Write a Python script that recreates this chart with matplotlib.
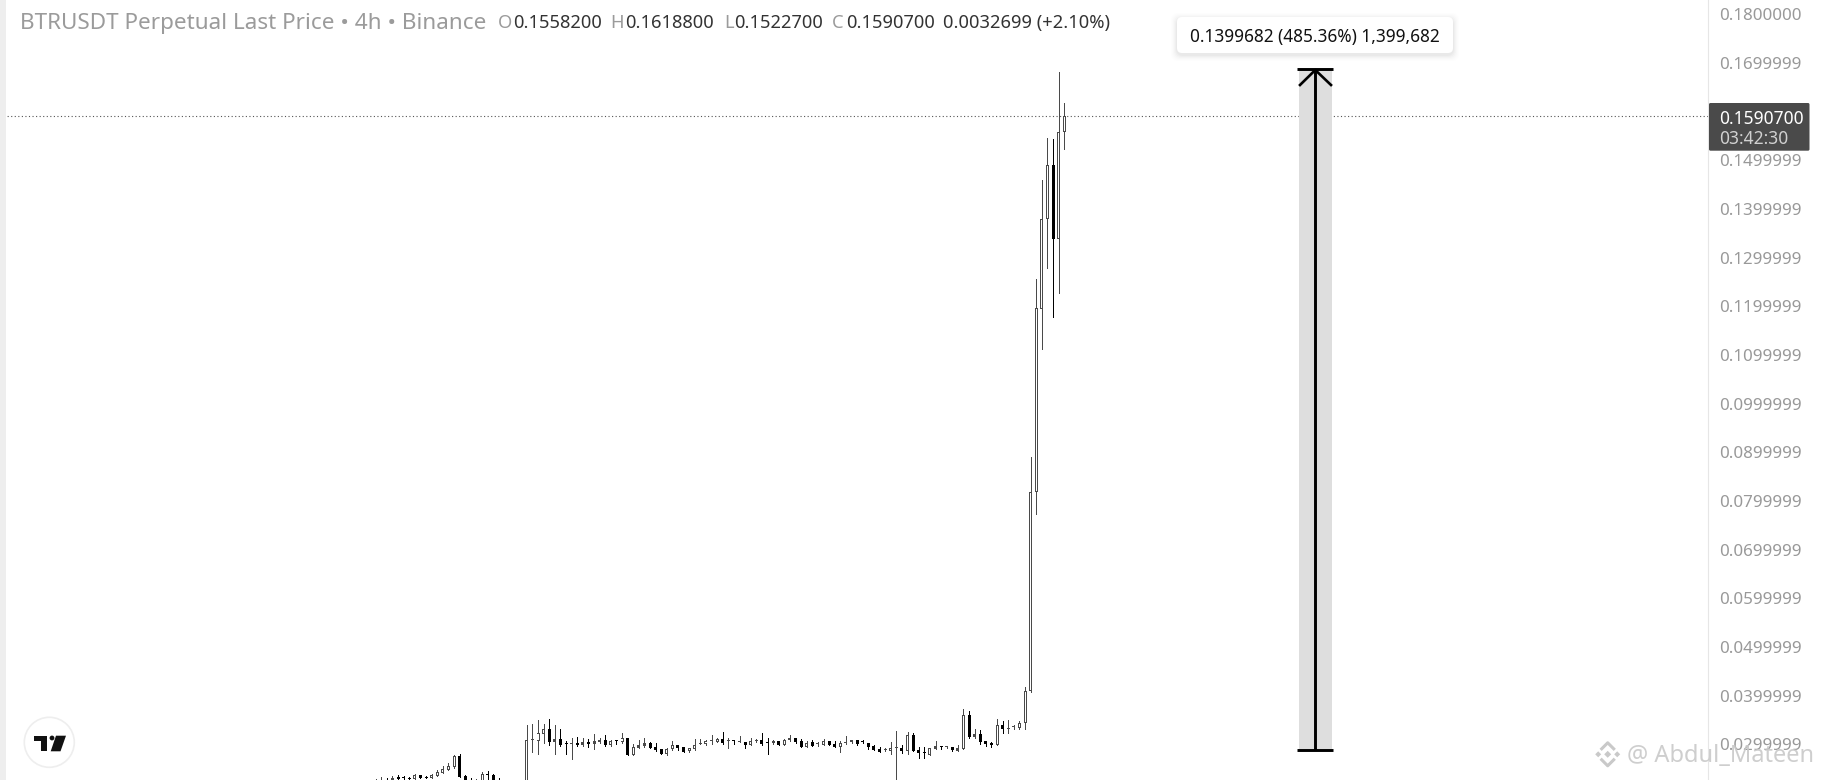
import numpy as np
import matplotlib
matplotlib.use("Agg")
import matplotlib.pyplot as plt
from matplotlib.patches import Rectangle, FancyBboxPatch, Polygon, Circle

plt.rcParams['font.family'] = ['Noto Sans', 'DejaVu Sans']

# Candle data, in units of 0.0001 USDT
opens = [222,224,225,226.5,233.2,231.8,230.5,229.8,236.6,233.2,231.1,235.3,242.1,248.3,253.7,276.3,234.6,226,225,225,237.3,236.6,226,
         222,220,219,221,
         222,308.5,307.8,322.2,331.1,305.8,310.6,300.3,300.3,302.4,299.6,304.4,301.7,305.8,308.5,299.6,307.2,305.8,312.6,279.1,293.5,297.6,303.7,294.1,290.0,281.1,290.0,298.3,
         294.8,286.0,291.4,300.3,300.3,307.2,305.8,310.6,307.9,306.6,305.1,304.4,299.6,306.5,308.5,303.1,302.4,306.5,299.6,308.5,312.6,306.5,295.5,304.4,300.3,299.6,306.5,301.0,295.5,302.4,304.4,308.5,304.5,302.4,296.9,290.7,288.7,286.6,292.1,292.1,287.3,318.8,288.0,283.9,279.1,291.4,294.1,294.8,294.1,287.3,291.4,359.9,316.1,320.9,306.5,303.0,299.0,339.4,332.5,335.2,333.9,343.6,409.9,
         818.2,1194.2,1379.1,1490.1,1339.3,1558.2]
highs = [229.8,232.5,230.5,235.9,238.0,234.6,233.2,239.4,236.6,235.3,238.7,246.9,255.1,262.0,278.4,280.5,236.6,230.5,229.1,243.5,245.5,239.4,231.1,
         224,223,224,224,
         340.0,342.1,350.3,341.4,352.4,340.0,331.8,306.5,313.3,315.4,312.6,310.6,320.9,314.0,319.5,308.5,309.9,323.6,312.6,300.3,308.5,312.6,304.4,303.0,290.0,292.1,306.5,298.3,
         294.8,292.1,310.6,310.6,309.9,319.5,313.3,325.7,313.3,309.2,317.4,305.1,312.6,311.3,323.6,313.3,308.5,307.9,310.6,318.8,313.3,310.6,306.5,308.5,304.4,310.6,307.9,306.5,307.2,317.4,309.2,309.2,308.5,303.0,298.9,294.8,292.8,305.1,327.7,298.3,325.7,323.6,294.8,294.8,292.1,307.2,297.6,296.9,294.8,298.3,372.9,368.8,331.8,329.8,307.2,305.1,351.7,348.3,349.6,339.4,348.9,418.1,890.7,
         1256.5,1459.9,1546.2,1544.1,1681.2,1618.8]
lows = [220,221,221,225,229.0,227,229,229.5,231.1,230.5,230.8,234.6,241.9,248.0,251.7,233.5,222,222,222,223,225,224,223,
        218,217,216,217,
        220,285.2,281.1,303.7,299.6,281.1,297.6,281.1,270.9,297.6,296.9,295.5,291.4,302.4,297.6,297.6,301.7,303.7,279.1,279.1,292.1,295.5,292.8,287.3,280.9,279.1,289.4,289.4,
        285.2,285.5,289.4,300.3,299.0,300.3,305.1,301.0,292.8,301.0,304.4,292.8,299.0,305.8,299.6,281.1,301.7,299.0,299.0,307.2,303.7,294.8,294.8,296.2,296.2,299.0,299.0,294.1,284.6,301.7,303.7,299.6,303.7,291.4,288.7,284.6,287.3,279.8,220,283.2,281.1,286.6,272.9,272.9,279.1,290.7,291.4,293.5,287.3,286.6,290.7,314.0,314.0,301.7,296.9,294.8,298.3,324.3,324.3,332.5,332.5,332.5,407.3,
        774.2,1113.3,1279.7,1179.0,1228.3,1522.7]
closes = [224,225,224,231.8,229.8,231.3,229.5,236.6,231.1,231.1,236.6,243.5,249.6,255.8,276.3,233.9,224,225,226,239.4,237.0,226,225,
          220,219,221,222,
          308.5,308.6,322.9,331.1,305.8,310.6,299.6,300.2,302.4,299.6,304.4,301.7,306.5,308.5,299.6,306.5,307.1,312.6,279.1,294.1,298.3,302.4,293.5,289.4,281.1,290.0,298.3,293.5,
          285.2,292.1,298.3,300.4,306.5,307.3,311.3,303.0,308.0,306.4,305.2,299.0,306.5,308.5,301.7,303.0,306.5,299.6,309.2,312.6,305.8,295.5,302.4,297.6,300.4,307.2,299.6,295.5,302.4,305.1,308.5,301.7,304.4,295.5,289.4,285.2,288.8,292.1,292.2,285.9,318.8,287.3,282.5,281.8,292.1,296.2,294.0,294.9,288.7,292.1,359.9,316.1,320.9,305.8,300.3,299.0,339.4,331.8,334.6,335.3,343.5,409.9,818.2,
          1196.3,1379.1,1490.1,1339.3,1558.2,1590.7]

tick_labels = ["0.1800000","0.1699999","0.1599999","0.1499999","0.1399999","0.1299999","0.1199999","0.1099999",
               "0.0999999","0.0899999","0.0799999","0.0699999","0.0599999","0.0499999","0.0399999","0.0299999"]
tick_prices = [0.18,0.17,0.16,0.15,0.14,0.13,0.12,0.11,0.10,0.09,0.08,0.07,0.06,0.05,0.04,0.03]
last_price = 0.15907
measure_high = 0.1688
measure_low = 0.02883

o = np.array(opens) / 1e4
h = np.array(highs) / 1e4
l = np.array(lows) / 1e4
c = np.array(closes) / 1e4
idx = np.arange(len(o))

fig = plt.figure(figsize=(18.24, 7.8), dpi=100, facecolor='white')

# ---- price pane ----
PANE_W = 1708
ax = fig.add_axes([0, 0, PANE_W / 1824, 1])
ax.set_xlim((0 - 375.7) / 5.598, (PANE_W - 375.7) / 5.598)
ax.set_ylim(0.0227, 0.18297)
ax.axis('off')

UP = '#4a4a4a'
DOWN = '#000000'
is_up = c >= o
cols = [UP if u else DOWN for u in is_up]
PX_X = 1 / 5.598     # one pixel, in candle widths
PX_Y = 1 / 4867      # one pixel, in price
ax.axhline(last_price, color='#555555', lw=0.8, ls=(0, (1, 2.2)), zorder=1)
ax.vlines(idx, l, h, colors=cols, lw=0.72, zorder=2, antialiaseds=False)
body_low = np.minimum(o, c)
body_h = np.maximum(np.abs(c - o), PX_Y)
ax.bar(idx, body_h, bottom=body_low, width=3 * PX_X, color=cols, linewidth=0, zorder=3,
       antialiased=False)
hollow = is_up & (body_h > 2.5 * PX_Y)
ax.bar(idx[hollow], body_h[hollow] - 2 * PX_Y, bottom=body_low[hollow] + PX_Y, width=1.1 * PX_X,
       color='white', linewidth=0, zorder=4, antialiased=False)

# ---- interface layer, in pixels ----
ui = fig.add_axes([0, 0, 1, 1], facecolor='none')
ui.set_xlim(0, 1824)
ui.set_ylim(780, 0)
ui.axis('off')

ui.add_patch(Rectangle((0, 0), 6, 780, facecolor='#eeeeee', edgecolor='none'))
ui.plot([1708, 1708], [0, 780], color='#e6e6e6', lw=0.8)

# measuring tool
def py(p):
    return 744.5 - (p - 0.03) * 4867

top, bot = py(measure_high), py(measure_low)
ui.add_patch(Rectangle((1299, top), 33.5, bot - top, facecolor='#dedede', edgecolor='none', zorder=2))
ui.plot([1315.3, 1315.3], [top, bot], color='black', lw=2.1, zorder=3, solid_capstyle='butt')
ui.plot([1297, 1333], [top, top], color='black', lw=2.1, zorder=3, solid_capstyle='butt')
ui.plot([1297, 1333], [bot, bot], color='black', lw=2.1, zorder=3, solid_capstyle='butt')
ui.plot([1300, 1315.3, 1331], [85, 70, 85], color='black', lw=1.9, zorder=3)

for off, a in ((6, 0.006), (5, 0.008), (4, 0.01), (3, 0.014), (2, 0.018), (1, 0.022)):
    ui.add_patch(FancyBboxPatch((1177 - off, 17 - off + 2), 276 + 2 * off, 36 + 2 * off,
                                boxstyle="round,pad=0,rounding_size=7", facecolor='black',
                                edgecolor='none', alpha=a, zorder=4))
ui.add_patch(FancyBboxPatch((1177, 17), 276, 36, boxstyle="round,pad=0,rounding_size=5",
                            facecolor='white', edgecolor='none', zorder=5))
ui.text(1315, 37, "0.1399682 (485.36%) 1,399,682", ha='center', va='center',
        fontsize=12.4, color='#111111', zorder=6)

# header
ui.text(20, 23.5, "BTRUSDT Perpetual Last Price • 4h • Binance", ha='left', va='center',
        fontsize=16.2, color='#9b9b9b')
GREY = '#9b9b9b'
DARK = '#333333'
for lx, letter, vx, val in ((498, 'O', 513, '0.1558200'), (610, 'H', 625, '0.1618800'),
                            (724, 'L', 734, '0.1522700'), (832, 'C', 846, '0.1590700')):
    ui.text(lx, 23, letter, ha='left', va='center', fontsize=13.2, color=GREY)
    ui.text(vx, 23, val, ha='left', va='center', fontsize=13.2, color=DARK)
ui.text(943, 23, "0.0032699 (+2.10%)", ha='left', va='center', fontsize=13.2, color=DARK)

# price axis
for p, t in zip(tick_prices, tick_labels):
    ui.text(1719, py(p) + 2, t, ha='left', va='center', fontsize=12.2, color='#999999', zorder=2)
ui.add_patch(FancyBboxPatch((1709, 103), 100.5, 47.7, boxstyle="round,pad=0,rounding_size=1.5",
                            facecolor='#4a4a4a', edgecolor='none', zorder=5))
ui.text(1719, 118.5, "0.1590700", ha='left', va='center', fontsize=12.5, color='white', zorder=6)
ui.text(1719, 139, "03:42:30", ha='left', va='center', fontsize=12.5, color='#d0d0d0', zorder=6)

# logo badge
ui.add_patch(Circle((49.3, 742.3), 25, facecolor='white', edgecolor='#eeeeee', lw=1.2, zorder=5))
ui.add_patch(Polygon([(34, 735.7), (46.7, 735.7), (46.7, 751.3), (41.3, 751.3), (41.3, 741.3), (34, 741.3)],
                     closed=True, facecolor='#111111', edgecolor='none', zorder=6))
ui.add_patch(Circle((52, 738), 2.4, facecolor='#111111', edgecolor='none', zorder=6))
ui.add_patch(Polygon([(56, 735.7), (66, 735.7), (60.5, 751.3), (50.7, 751.3)],
                     closed=True, facecolor='#111111', edgecolor='none', zorder=6))

# watermark
wm = '#c9c9c9'
cx, cy, r = 1607.7, 754.3, 14
ui.add_patch(Polygon([(cx, cy - 3.5), (cx + 3.5, cy), (cx, cy + 3.5), (cx - 3.5, cy)], closed=True,
                     facecolor=wm, edgecolor='none', zorder=7))
for dx, dy in ((-9.5, 0), (9.5, 0)):
    ui.add_patch(Polygon([(cx + dx, cy - 3), (cx + dx + 3, cy), (cx + dx, cy + 3), (cx + dx - 3, cy)], closed=True,
                         facecolor=wm, edgecolor='none', zorder=7))
ui.plot([cx - 6, cx, cx + 6], [cy - 5.5, cy - 11.5, cy - 5.5], color=wm, lw=2.2, zorder=7)
ui.plot([cx - 6, cx, cx + 6], [cy + 5.5, cy + 11.5, cy + 5.5], color=wm, lw=2.2, zorder=7)
ui.text(1627, 756, "@ Abdul_Mateen", ha='left', va='center', fontsize=17, color=wm, zorder=7, alpha=0.9)

fig.savefig('out.png', dpi=100, facecolor='white')
